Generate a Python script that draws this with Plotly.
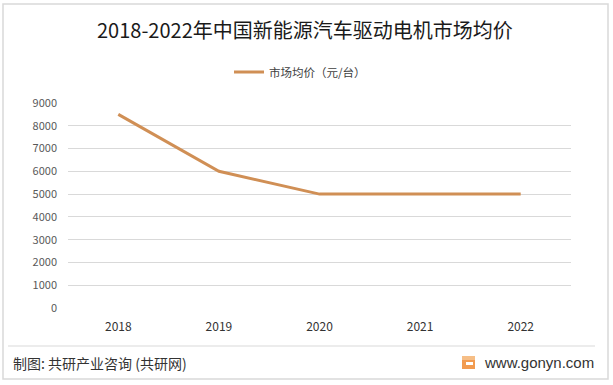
import plotly.graph_objects as go

years = ["2018", "2019", "2020", "2021", "2022"]
prices = [8500, 6000, 5000, 5000, 5000]
y_ticks = [0, 1000, 2000, 3000, 4000, 5000, 6000, 7000, 8000, 9000]
series_name = "市场均价（元/台）"
title_text = "2018-2022年中国新能源汽车驱动电机市场均价"
source_text = "制图: 共研产业咨询 (共研网)"
site_text = "www.gonyn.com"

W, H = 613, 385
PL, PR, PT, PB = 68, 571, 103, 308
FONT = "Noto Sans CJK SC, Microsoft YaHei, sans-serif"


def py(pix):
    return (PB - pix) / float(PB - PT)


def px(pix):
    return (pix - PL) / float(PR - PL)


fig = go.Figure()
fig.add_trace(go.Scatter(
    x=years, y=prices, mode="lines", name=series_name,
    line=dict(color="#D08F55", width=3),
))

fig.update_layout(
    width=W, height=H,
    paper_bgcolor="white", plot_bgcolor="white",
    margin=dict(l=PL, r=W - PR, t=PT, b=H - PB),
    showlegend=True,
    legend=dict(orientation="h", x=px(300), xanchor="center", y=py(72), yanchor="middle",
                font=dict(size=11.5, color="#404040", family=FONT),
                bgcolor="rgba(0,0,0,0)"),
    xaxis=dict(type="category", showgrid=False, zeroline=False, showline=False,
               ticks="", tickfont=dict(size=12, color="#333333", family=FONT),
               range=[-0.5, 4.5], ticklabelstandoff=10),
    yaxis=dict(range=[0, 9000], tickvals=y_ticks, showgrid=True, gridcolor="#D9D9D9",
               gridwidth=1, zeroline=False, showline=False, ticks="",
               tickfont=dict(size=11, color="#595959", family=FONT), ticklabelstandoff=10),
    font=dict(family=FONT),
)

# title
fig.add_annotation(text=title_text, xref="paper", yref="paper", x=px(305), y=py(30),
                   showarrow=False, font=dict(size=20, color="#1A1A1A", family=FONT),
                   xanchor="center", yanchor="middle")

# outer frame
fig.add_shape(type="rect", xref="paper", yref="paper", x0=px(3), x1=px(608), y0=py(379), y1=py(4),
              line=dict(color="#D9D9D9", width=1.5), fillcolor="rgba(0,0,0,0)", layer="below")
# separator line
fig.add_shape(type="line", xref="paper", yref="paper", x0=px(8), x1=px(595), y0=py(346), y1=py(346),
              line=dict(color="#D9D9D9", width=1))
# footer
fig.add_annotation(text=source_text, xref="paper", yref="paper", x=px(11), y=py(363),
                   showarrow=False, xanchor="left", yanchor="middle",
                   font=dict(size=14, color="#333333", family=FONT))
fig.add_annotation(text=site_text, xref="paper", yref="paper", x=px(596), y=py(362),
                   showarrow=False, xanchor="right", yanchor="middle",
                   font=dict(size=15, color="#333333", family="Arial, Liberation Sans, sans-serif"))
# logo icon
fig.add_shape(type="rect", xref="paper", yref="paper", x0=px(462), x1=px(475), y0=py(369), y1=py(356),
              line=dict(width=0), fillcolor="#F29B50")
fig.add_shape(type="rect", xref="paper", yref="paper", x0=px(462), x1=px(475), y0=py(360), y1=py(356),
              line=dict(width=0), fillcolor="#F6BE86")
fig.add_shape(type="rect", xref="paper", yref="paper", x0=px(466), x1=px(473), y0=py(365), y1=py(362),
              line=dict(width=0), fillcolor="white")

fig.write_html("out.html", config={"displayModeBar": False},
               post_script="document.body.style.margin='0';")
